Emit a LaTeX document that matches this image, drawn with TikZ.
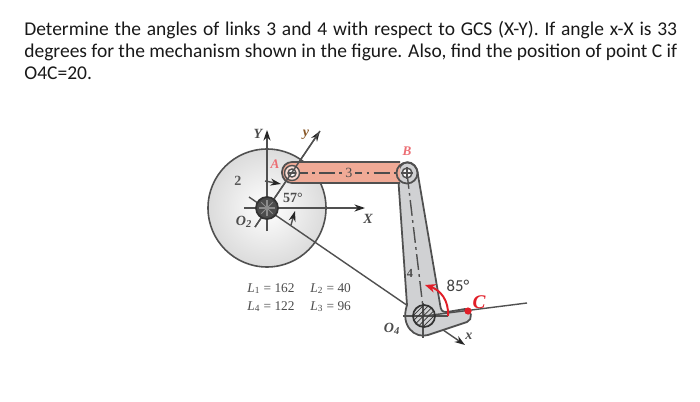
\documentclass[tikz,border=0pt]{standalone}
\usepackage{fontspec}
\usepackage{amsmath}
\setmainfont{Carlito}
\newfontfamily\labelfont{Liberation Serif}
\usetikzlibrary{arrows.meta,patterns}

\definecolor{linkred}{RGB}{240,170,150}
\definecolor{linkgrey}{RGB}{208,209,211}
\definecolor{edgegrey}{RGB}{80,80,80}
\definecolor{markred}{RGB}{225,30,40}

\tikzset{
	task/.style={anchor=base west, inner sep=0pt, font=\fontsize{11.1pt}{13pt}\selectfont, text=black!90},
	axis/.style={edgegrey, line width=0.8pt},
	axisarrow/.style={axis, -{Stealth[length=6pt,width=4pt,black!85]}},
	tag/.style={inner sep=0pt, text=black!70, font=\labelfont\bfseries\itshape\fontsize{8pt}{9pt}\selectfont},
	redtag/.style={inner sep=0pt, text=markred!65, font=\labelfont\bfseries\itshape\fontsize{7.5pt}{8pt}\selectfont},
	formula/.style={anchor=base west, inner sep=0pt, text=black!70, font=\labelfont\fontsize{7.6pt}{8pt}\selectfont},
	pin/.style={circle, draw=edgegrey, line width=0.8pt, inner sep=0pt},
	hub/.style={circle, draw=black!80, line width=1pt, inner sep=0pt},
}

\begin{document}
\begin{tikzpicture}[x=0.02cm,y=-0.02cm]
	\useasboundingbox (0,0) rectangle (700,402);
	\fill[white] (0,0) rectangle (700,402);

	% Task text
	\node[task] (line1) at (24,36) {\makebox[13.06cm][s]{Determine the angles of links 3 and 4 with respect to GCS (X-Y). If angle x-X is 33}};
	\node[task] (line2) at (24,58) {\makebox[13.06cm][s]{degrees for the mechanism shown in the figure. Also, find the position of point C if}};
	\node[task] (line3) at (24,80) {O4C=20.};

	% Joints
	\coordinate (O2) at (267,208);
	\coordinate (A) at (292,173);
	\coordinate (B) at (407,173);
	\coordinate (O4) at (424,316);
	\coordinate (C) at (468,311);

	% Free ends of the axes
	\coordinate (Ybot) at (267,231);
	\coordinate (Ytop) at (267,130);
	\coordinate (Xleft) at (244,208);
	\coordinate (Xright) at (365,208);
	\coordinate (ybot) at (255,227);
	\coordinate (ytop) at (320,131);
	\coordinate (xleft) at (249,197);
	\coordinate (xright) at (465,345);
	\coordinate (Cend) at (527,303);

	% Link 2
	\draw[edgegrey, line width=0.9pt, inner color=white, outer color=black!14] (O2) circle (59);

	% Axes
	\draw[axisarrow] (Ybot) -- (Ytop);
	\draw[axisarrow] (Xleft) -- (Xright);
	\draw[axisarrow] (ybot) -- (ytop);
	\draw[axisarrow] (xleft) -- (xright);

	% Angle arrows
	\coordinate (marka) at (265,181);
	\coordinate (markb) at (281,184);
	\coordinate (markc) at (291,225);
	\coordinate (markd) at (295,211);
	\draw[axisarrow] (marka) -- (markb);
	\draw[axisarrow] (markc) -- (markd);

	% Link 4
	\draw[edgegrey, line width=1pt, fill=linkgrey]
		(398,175) .. controls (398,158) and (417,158) .. (418,175)
		-- (440,304) .. controls (441,311) and (442,312) .. (447,312)
		-- (465,309) .. controls (472,309) and (473,320) .. (467,322)
		-- (428,335) .. controls (415,339) and (400,326) .. (407,305) -- cycle;
	\draw[edgegrey, line width=0.8pt, dash pattern=on 9pt off 2.5pt on 1.5pt off 2.5pt] (B) -- (O4);
	\draw[axis] (O4) -- (Cend);

	% Link 3
	\draw[edgegrey, line width=1pt, fill=linkred, rounded corners=0.2cm] (400,162) -- (282,162) -- (282,183) -- (400,183);
	\draw[black!70, line width=0.8pt, dash pattern=on 9pt off 2.5pt on 1.5pt off 2.5pt] (A) -- (B);
	\node[fill=linkred, inner sep=1.5pt, text=black!70, font=\labelfont\fontsize{8pt}{9pt}\selectfont] (three) at (349,173) {3};

	% Pins
	\node[pin, minimum size=0.3cm, fill=white!60!linkred] (pinA) at (A) {};
	\node[pin, minimum size=0.16cm, fill=white] (pinAin) at (A) {};
	\draw[edgegrey, line width=1pt] (B) circle (10.5);
	\node[pin, minimum size=0.2cm, fill=white!85!linkgrey] (pinB) at (B) {};
	\draw[axis] (A) ++(-4,0) -- ++(8,0);
	\draw[axis] (ybot) -- (ytop);
	\draw[axis] (pinB.west) -- (pinB.east);
	\draw[axis] (pinB.north) -- (pinB.south);

	% Hubs
	\node[hub, minimum size=0.44cm, fill=black!70] (hubO2) at (O2) {};
	\foreach \ang in {0,45,...,135}
		\draw[white!55!black, line width=0.6pt] (O2) ++(\ang:8) -- ++(\ang+180:16);
	\draw[axis] (403,316) -- (448,316);
	\draw[axis] (423,303) -- (423,338);
	\node[hub, minimum size=0.44cm, fill=white!75!black, pattern=north east lines, pattern color=black!80] (hubO4) at (O4) {};

	% Angle 85
	\draw[markred, line width=1.1pt, -{Stealth[length=6pt,width=5pt]}] (448,316) .. controls (449,300) and (440,290) .. (425,285);
	\fill[markred] (C) circle (3.6);

	% Labels
	\node[tag] (labY) at (258,134) {Y};
	\node[tag, text=black!45!orange!70!gray] (laby) at (306,135) {y};
	\node[tag] (labX) at (368,219) {X};
	\node[tag] (labx) at (469,336) {x};
	\node[redtag] (labA) at (275,164) {A};
	\node[redtag] (labB) at (407,151) {B};
	\node[tag] (labO2) at (244,222) {O\textsubscript{2}};
	\node[tag] (labO4) at (392,329) {O\textsubscript{4}};
	\node[inner sep=0pt, text=black!65, font=\labelfont\bfseries\fontsize{8pt}{9pt}\selectfont] (two) at (238,181) {2};
	\node[inner sep=0pt, text=black!70, font=\labelfont\bfseries\fontsize{7pt}{8pt}\selectfont] (four) at (410,273) {4};
	\node[inner sep=0pt, text=black!70, font=\labelfont\bfseries\fontsize{8pt}{9pt}\selectfont] (angA) at (293,198) {57°};
	\node[inner sep=0pt, text=black!75, font=\fontsize{9.5pt}{10pt}\selectfont] (angB) at (458,286) {85°};
	\node[inner sep=0pt, text=markred, font=\labelfont\bfseries\itshape\fontsize{11pt}{12pt}\selectfont] (labC) at (479,302) {C};
	\node[formula] (forma) at (247,292) {\textit{L}\textsubscript{1} = 162};
	\node[formula] (formb) at (310,292) {\textit{L}\textsubscript{2} = 40};
	\node[formula] (formc) at (247,310) {\textit{L}\textsubscript{4} = 122};
	\node[formula] (formd) at (310,310) {\textit{L}\textsubscript{3} = 96};
\end{tikzpicture}
\end{document}
